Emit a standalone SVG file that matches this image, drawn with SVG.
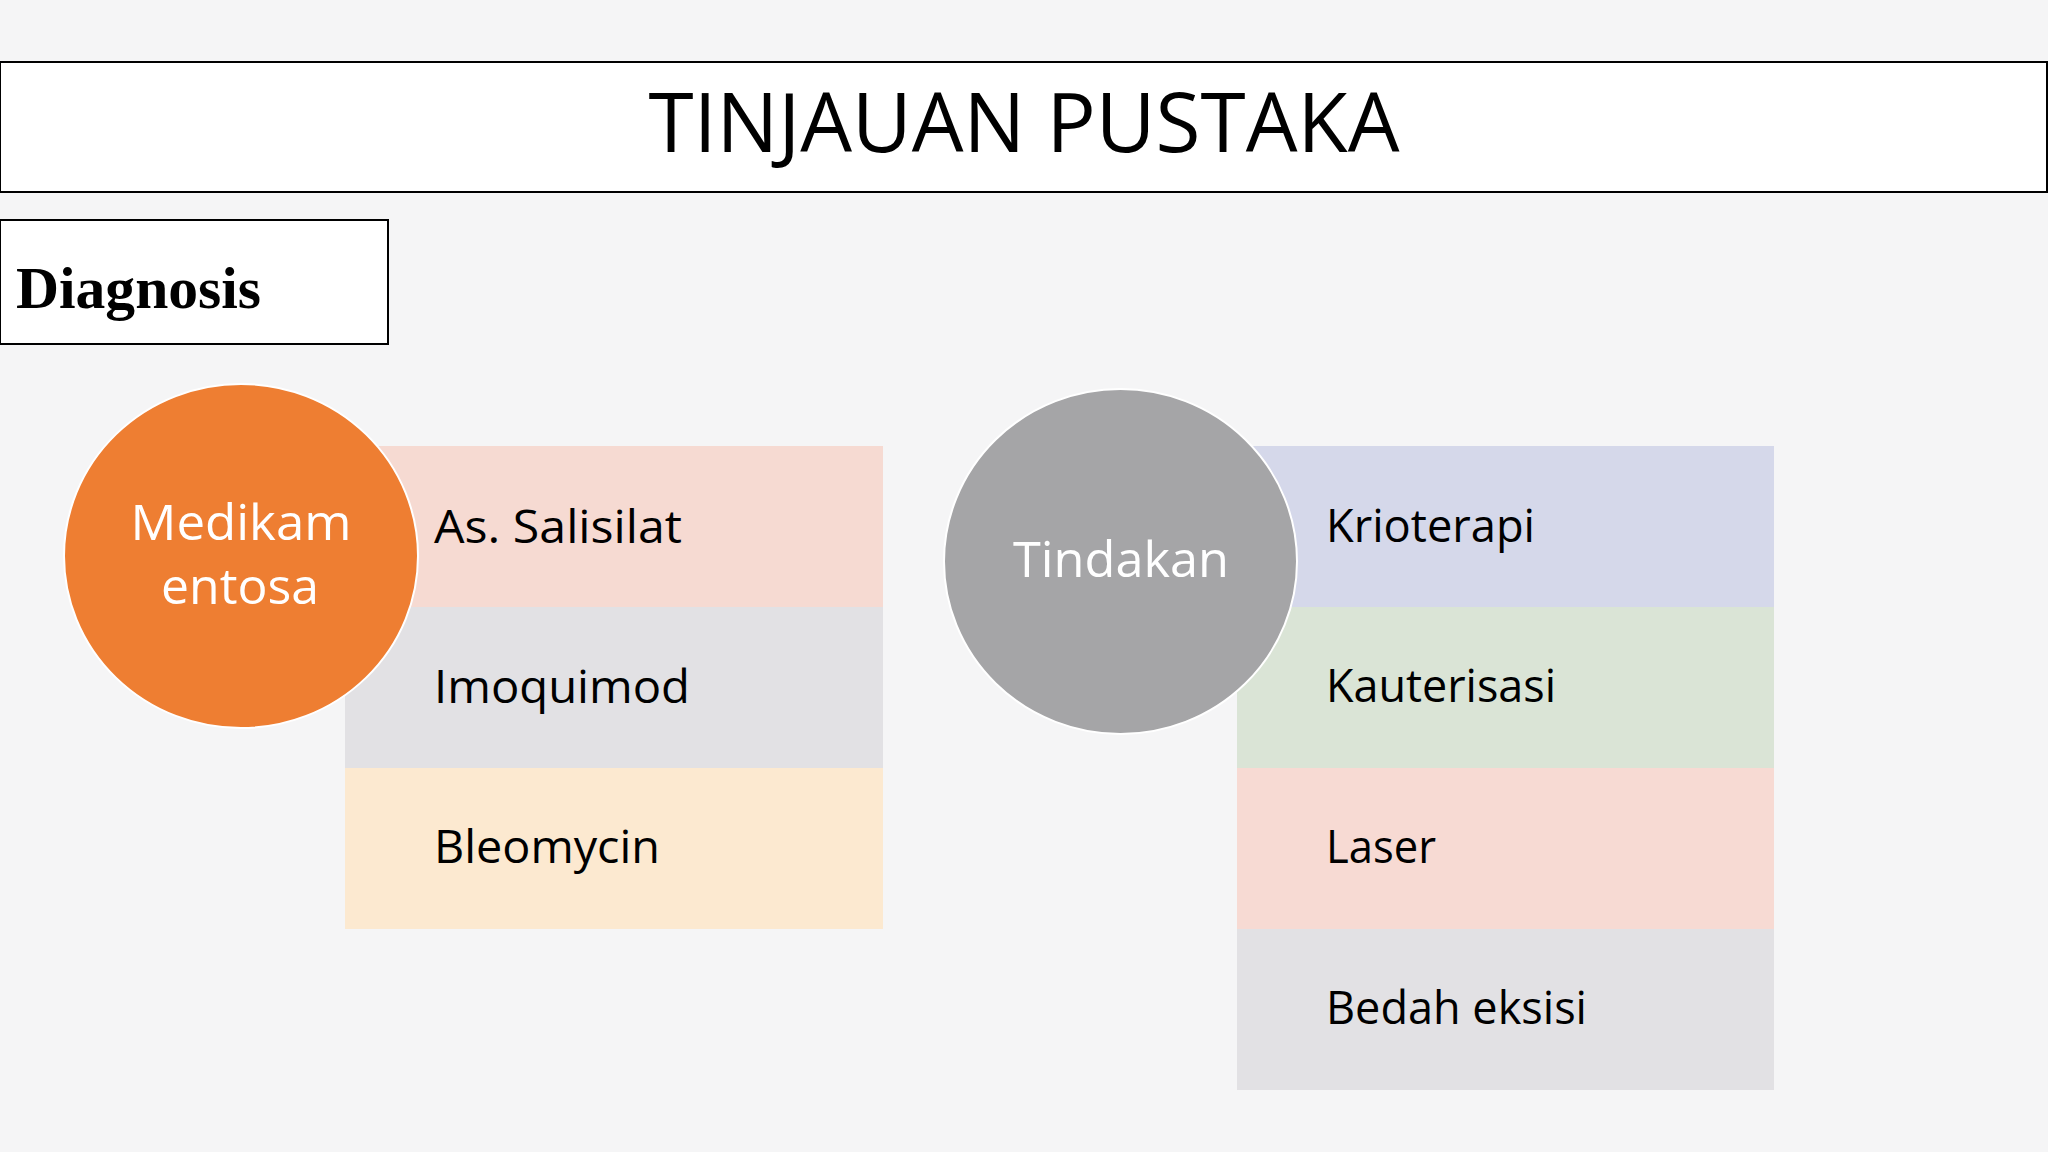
<svg xmlns="http://www.w3.org/2000/svg" width="2048" height="1152" viewBox="0 0 2048 1152">
<style>
.item{font-family:"Open Sans","Noto Sans",sans-serif;font-size:46px;fill:#000}
.ctext{font-family:"Open Sans","Noto Sans",sans-serif;font-size:50px;fill:#fff;text-anchor:middle}
.circ{stroke:#fff;stroke-width:2}
</style>
<rect width="2048" height="1152" fill="#f5f5f6"/>
<g id="title">
<rect x="0" y="62" width="2047" height="130" fill="#fff" stroke="#000" stroke-width="2"/>
<text x="1024" y="152" text-anchor="middle" font-family="'Open Sans','Noto Sans',sans-serif" font-size="83" textLength="751" lengthAdjust="spacingAndGlyphs">TINJAUAN PUSTAKA</text>
</g>
<g id="diagnosis">
<rect x="0" y="220" width="388" height="124" fill="#fff" stroke="#000" stroke-width="2"/>
<text x="16" y="308" font-family="'Liberation Serif','Times New Roman',serif" font-weight="bold" font-size="60" textLength="245" lengthAdjust="spacingAndGlyphs">Diagnosis</text>
</g>
<g id="medikamentosa-list">
<rect x="345" y="446" width="538" height="161" fill="#f6dad2"/>
<rect x="345" y="607" width="538" height="161" fill="#e2e1e4"/>
<rect x="345" y="768" width="538" height="161" fill="#fce9d0"/>
<text class="item" x="434" y="543" textLength="248" lengthAdjust="spacingAndGlyphs">As. Salisilat</text>
<text class="item" x="434" y="703" textLength="256" lengthAdjust="spacingAndGlyphs">Imoquimod</text>
<text class="item" x="434" y="863" textLength="226" lengthAdjust="spacingAndGlyphs">Bleomycin</text>
</g>
<g id="medikamentosa">
<ellipse class="circ" cx="241" cy="556" rx="177" ry="172" fill="#ee7e32"/>
<text class="ctext" x="241" y="540" textLength="221" lengthAdjust="spacingAndGlyphs">Medikam</text>
<text class="ctext" x="240" y="604" textLength="158" lengthAdjust="spacingAndGlyphs">entosa</text>
</g>
<g id="tindakan-list">
<rect x="1237" y="446" width="537" height="161" fill="#d5d8ea"/>
<rect x="1237" y="607" width="537" height="161" fill="#dae4d6"/>
<rect x="1237" y="768" width="537" height="161" fill="#f7dad3"/>
<rect x="1237" y="929" width="537" height="161" fill="#e2e1e4"/>
<text class="item" x="1326" y="542" textLength="209" lengthAdjust="spacingAndGlyphs">Krioterapi</text>
<text class="item" x="1326" y="702" textLength="230" lengthAdjust="spacingAndGlyphs">Kauterisasi</text>
<text class="item" x="1326" y="863" textLength="110" lengthAdjust="spacingAndGlyphs">Laser</text>
<text class="item" x="1326" y="1024" textLength="261" lengthAdjust="spacingAndGlyphs">Bedah eksisi</text>
</g>
<g id="tindakan">
<ellipse class="circ" cx="1120.5" cy="561.5" rx="176.5" ry="172.5" fill="#a5a5a7"/>
<text class="ctext" x="1121" y="577" textLength="216" lengthAdjust="spacingAndGlyphs">Tindakan</text>
</g>
<g id="connectors"/>
</svg>
